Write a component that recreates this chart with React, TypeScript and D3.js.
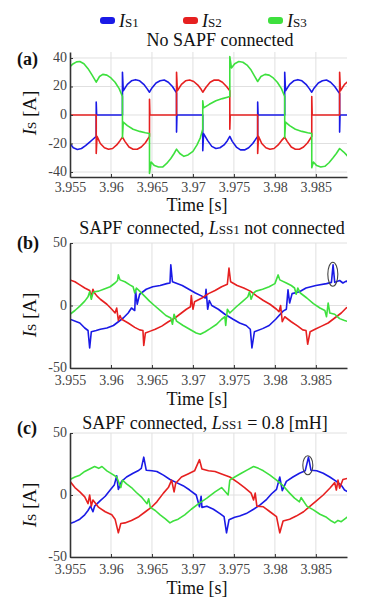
import React, { useEffect, useRef } from "react";
import * as d3 from "d3";

type Pt = [number, number];

const xTicks = [3.955, 3.96, 3.965, 3.97, 3.975, 3.98, 3.985];
const xTickLabels = ["3.955", "3.96", "3.965", "3.97", "3.975", "3.98", "3.985"];
const yTicksA = [-40, -20, 0, 20, 40];
const yTicksBC = [-50, 0, 50];
const legendSubs = ["S1", "S2", "S3"];
const colors = ["#1a1ae6", "#e62020", "#3ee03e"];

// (a) no SAPF
const a1: Pt[] = [
  [3.955, -20], [3.9554, -23], [3.9559, -24.2], [3.9564, -23.5], [3.9569, -21.5], [3.9574, -19], [3.9578, -17], [3.9582, -15],
  [3.9582, 9], [3.95825, 0], [3.9614, 0], [3.9614, 30], [3.9615, 17], [3.962, 21.5], [3.9625, 24], [3.963, 24.8], [3.9635, 24],
  [3.964, 21.5], [3.9644, 18.5], [3.9647, 16], [3.965, 19], [3.9655, 22.5], [3.966, 24], [3.9665, 24.5], [3.967, 23], [3.9675, 20],
  [3.968, 15.5], [3.968, -12], [3.96805, 0], [3.9712, 0], [3.9712, -25], [3.9713, -13], [3.9718, -18], [3.9723, -22], [3.9728, -23.5],
  [3.9733, -23], [3.9738, -21], [3.9742, -18], [3.9745, -15], [3.9748, -18.5], [3.9753, -22.5], [3.9758, -24.5], [3.9763, -24.5],
  [3.9768, -23], [3.9773, -20], [3.9779, -15], [3.9779, 9], [3.97795, 0], [3.9812, 0], [3.9812, 30], [3.9813, 17], [3.9818, 21.5],
  [3.9823, 24], [3.9828, 24.8], [3.9833, 24], [3.9838, 21.5], [3.9842, 18.5], [3.9845, 16], [3.9848, 19], [3.9853, 22.5],
  [3.9858, 24], [3.9863, 24.5], [3.9868, 23], [3.9873, 20], [3.9879, 15], [3.9879, -12], [3.98795, 0], [3.989, 0],
];
const a2: Pt[] = [
  [3.955, 0], [3.9582, 0], [3.9582, -27], [3.9583, -15], [3.9587, -20], [3.9592, -23], [3.9597, -24], [3.9602, -23.5],
  [3.9607, -21], [3.9611, -18], [3.9614, -15.5], [3.9617, -18.5], [3.9622, -22.5], [3.9627, -24], [3.9632, -24], [3.9637, -22.5],
  [3.9642, -19.5], [3.9647, -15], [3.9647, 11], [3.96475, 0], [3.968, 0], [3.968, 30], [3.9681, 17], [3.9686, 21.5], [3.9691, 24],
  [3.9696, 24.5], [3.9701, 23.5], [3.9706, 21], [3.971, 18], [3.9712, 16], [3.9716, 19.5], [3.9721, 23], [3.9726, 24.5],
  [3.9731, 24.5], [3.9736, 23], [3.9741, 20], [3.9745, 17], [3.9745, -10], [3.97455, 0], [3.9779, 0], [3.9779, -27], [3.978, -15],
  [3.9784, -20], [3.9789, -23], [3.9794, -24], [3.9799, -23.5], [3.9804, -21], [3.9808, -18], [3.9812, -15.5], [3.9815, -18.5],
  [3.982, -22.5], [3.9825, -24], [3.983, -24], [3.9835, -22.5], [3.984, -19.5], [3.9845, -15], [3.9845, 13], [3.98455, 0],
  [3.9879, 0], [3.9879, 30], [3.988, 17], [3.9885, 21.5], [3.989, 24],
];
const a3: Pt[] = [
  [3.955, 34], [3.9554, 36], [3.9558, 37.3], [3.9562, 37.5], [3.9567, 36], [3.9572, 32.5], [3.9577, 28], [3.9582, 23],
  [3.9586, 27], [3.959, 28.5], [3.9595, 28], [3.96, 26], [3.9605, 23], [3.961, 18.5], [3.9614, 13], [3.9614, -16], [3.9615, -5],
  [3.962, -7.5], [3.9627, -10], [3.9635, -11.5], [3.9642, -12.5], [3.9647, -13], [3.9647, -41], [3.9649, -33], [3.9653, -35.5],
  [3.9658, -36.5], [3.9663, -36.5], [3.9668, -34], [3.9673, -30.5], [3.9677, -27], [3.968, -24], [3.9684, -27], [3.9689, -29],
  [3.9694, -28], [3.97, -25.5], [3.9705, -21], [3.9709, -16], [3.9712, -10], [3.9712, 10], [3.9713, 5], [3.972, 7.5],
  [3.9728, 10], [3.9736, 11.5], [3.9742, 12.5], [3.9745, 13], [3.9745, 41], [3.9747, 33], [3.9751, 36], [3.9756, 37.5],
  [3.9761, 37], [3.9766, 35], [3.9771, 31.5], [3.9775, 27.5], [3.9779, 23.5], [3.9783, 27], [3.9788, 28.5], [3.9793, 28],
  [3.9798, 26], [3.9803, 23], [3.9808, 18.5], [3.9812, 13], [3.9812, -16], [3.9813, -5], [3.9818, -7.5], [3.9825, -10],
  [3.9833, -11.5], [3.984, -12.5], [3.9845, -13], [3.9845, -37], [3.9847, -33], [3.9851, -35.5], [3.9856, -36.5], [3.9861, -36],
  [3.9866, -33.5], [3.9871, -30], [3.9875, -27], [3.9879, -23.5], [3.9884, -26], [3.9889, -29],
];

// (b) SAPF, Lss1 not connected
const b1: Pt[] = [
  [3.955, -11], [3.9562, -14], [3.9568, -18], [3.9572, -20], [3.9574, -34], [3.9576, -21], [3.9582, -20], [3.9587, -19],
  [3.9595, -18], [3.9603, -16], [3.9609, -13], [3.9615, -10], [3.9621, -6], [3.9625, -2], [3.9629, -4], [3.963, 12], [3.9632, 1],
  [3.9635, 9], [3.9643, 13], [3.9651, 15], [3.966, 16], [3.9668, 17.5], [3.9672, 18], [3.9673, 32.5], [3.9675, 19], [3.9679, 18],
  [3.9687, 16], [3.9695, 13], [3.9703, 10], [3.9711, 7.5], [3.9715, 6], [3.9716, 13], [3.9718, -3], [3.972, 4], [3.9723, 0],
  [3.9731, -3], [3.9739, -7], [3.9749, -11], [3.9757, -14], [3.9765, -16], [3.977, -19], [3.9772, -34], [3.9775, -21],
  [3.9785, -18.5], [3.9793, -16], [3.9801, -11], [3.981, -4.5], [3.9814, -3], [3.9816, 12.5], [3.9818, 2], [3.9821, 9.5],
  [3.983, 11], [3.9838, 14], [3.985, 16], [3.9863, 17.5], [3.9869, 18.5], [3.9871, 32.5], [3.9873, 18.5], [3.9879, 20],
  [3.9883, 18], [3.9887, 19.5], [3.989, 19],
];
const b2: Pt[] = [
  [3.955, 20.5], [3.9556, 19], [3.9562, 16.5], [3.9568, 14], [3.9574, 12], [3.9576, 7], [3.9578, 13], [3.958, 10], [3.9583, 7.5],
  [3.9587, 5], [3.9595, 1], [3.9601, -3], [3.9605, -6], [3.9607, -2], [3.9609, -12], [3.9611, -8], [3.9613, -11], [3.9621, -14],
  [3.9629, -17.5], [3.9635, -19.5], [3.9639, -20], [3.964, -32], [3.9642, -22], [3.9648, -20.5], [3.9654, -19], [3.9662, -16.5],
  [3.967, -13], [3.9678, -10], [3.9686, -6], [3.9692, -3], [3.9697, -1], [3.9698, 8], [3.97, -3], [3.9702, 3], [3.9711, 6],
  [3.9719, 9.5], [3.9727, 12], [3.9735, 15], [3.9742, 17], [3.9744, 30], [3.9746, 19], [3.9754, 16], [3.9762, 14], [3.977, 11.5],
  [3.9778, 7.5], [3.9786, 4], [3.9794, 1], [3.9802, -3], [3.9805, -5], [3.9807, 0], [3.9809, -13], [3.9812, -9], [3.982, -13],
  [3.9828, -16.5], [3.9834, -19.5], [3.9838, -20], [3.984, -31], [3.9843, -21], [3.9849, -19], [3.9857, -16.5], [3.9865, -14],
  [3.9873, -10], [3.9881, -6], [3.9887, -2], [3.989, -1],
];
const b3: Pt[] = [
  [3.955, -7], [3.9556, -4], [3.9562, -0.5], [3.9568, 3.5], [3.9572, 7], [3.9574, 11], [3.9576, 5], [3.9578, 10], [3.958, 11],
  [3.9585, 11.5], [3.9591, 13], [3.9599, 15], [3.9605, 18], [3.9608, 20], [3.9609, 24.5], [3.9611, 20.5], [3.9617, 19],
  [3.9623, 16.5], [3.9627, 15], [3.9629, 10], [3.9631, 14], [3.9635, 11.5], [3.9641, 7.5], [3.9647, 3.5], [3.9653, 0],
  [3.9661, -4.5], [3.9667, -8], [3.9673, -10], [3.9675, -15], [3.9677, -7], [3.968, -12.5], [3.9688, -16], [3.9696, -19],
  [3.9704, -22], [3.9709, -23], [3.9715, -21], [3.9721, -18.5], [3.9729, -15], [3.9735, -11], [3.9739, -9], [3.974, -16],
  [3.9742, -3], [3.9745, -6], [3.9753, -1], [3.9761, 3.5], [3.9767, 7], [3.9769, 11], [3.9771, 5], [3.9774, 10], [3.9777, 11.5],
  [3.9785, 13], [3.9793, 15], [3.98, 17.5], [3.9804, 24.5], [3.9806, 20.5], [3.9814, 18], [3.982, 16], [3.9824, 14],
  [3.9826, 9], [3.9828, 14], [3.9831, 10], [3.9839, 6], [3.9847, 1.5], [3.9855, -2], [3.9861, -4], [3.9863, -9], [3.9865, 2],
  [3.9867, -6], [3.9873, -7], [3.9879, -10.5], [3.9885, -12], [3.989, -13],
];

// (c) SAPF, Lss1 = 0.8 mH
const c1: Pt[] = [
  [3.955, -23], [3.9556, -21.5], [3.9562, -19.5], [3.9568, -16], [3.9572, -12.5], [3.9575, -9], [3.9578, -13.5], [3.958, -9],
  [3.9587, -4.5], [3.9593, -1], [3.9599, 4], [3.9604, 8], [3.9607, 15.5], [3.9609, 4.5], [3.9613, 11], [3.9619, 14.5],
  [3.9627, 17.5], [3.9633, 19.5], [3.9637, 21.5], [3.964, 30.5], [3.9643, 20], [3.965, 19.5], [3.9656, 19], [3.9664, 16],
  [3.9672, 12.5], [3.968, 10], [3.9688, 7.5], [3.9696, 4], [3.9704, 0], [3.9708, -9.5], [3.971, -1], [3.9711, -10],
  [3.9717, -9], [3.9725, -11.5], [3.9733, -15], [3.9738, -17.5], [3.9741, -30.5], [3.9744, -20], [3.9751, -18], [3.9757, -17],
  [3.9765, -15], [3.9774, -11.5], [3.9782, -8], [3.979, -3.5], [3.9796, 1], [3.9802, 4.5], [3.9806, 14.5], [3.9809, 3.5],
  [3.9814, 11], [3.9822, 14.5], [3.983, 17.5], [3.9837, 19.5], [3.9841, 30.5], [3.9844, 20], [3.9851, 19.5], [3.9859, 17.5],
  [3.9867, 14.5], [3.9875, 11], [3.9881, 8], [3.9885, 4], [3.9889, 2.5],
];
const c2: Pt[] = [
  [3.955, 11], [3.9556, 6], [3.9562, 2.5], [3.9568, -1.5], [3.9572, -7], [3.9574, 0], [3.9576, -9], [3.9578, -4],
  [3.9585, -10], [3.9593, -13.5], [3.9601, -16], [3.9605, -19.5], [3.9609, -30.5], [3.9612, -23], [3.9617, -22.5],
  [3.9625, -20.5], [3.9634, -17.5], [3.9642, -13.5], [3.965, -9.5], [3.9656, -5.5], [3.9664, 1.5], [3.967, 6], [3.9674, 12],
  [3.9677, 2.5], [3.9679, 9.5], [3.9686, 14.5], [3.9694, 17], [3.9702, 19.5], [3.9708, 28.5], [3.9711, 21], [3.9719, 19.5],
  [3.9727, 19], [3.9735, 17], [3.9745, 14.5], [3.9755, 10], [3.9763, 6], [3.9771, 1.5], [3.9774, -4], [3.9776, 1.5],
  [3.9778, -9], [3.9786, -9.5], [3.9794, -13.5], [3.9802, -17.5], [3.9806, -30.5], [3.981, -21], [3.9818, -19.5],
  [3.9826, -17], [3.9835, -13.5], [3.9843, -9], [3.9851, -4.5], [3.9859, 0], [3.9867, 5.5], [3.9873, 10], [3.9875, 4],
  [3.9877, 12], [3.9879, 5.5], [3.9883, 12.5], [3.9889, 13.5],
];
const c3: Pt[] = [
  [3.955, 12.5], [3.9556, 14.5], [3.9562, 16], [3.9568, 19], [3.9574, 21], [3.958, 23], [3.9585, 21.5], [3.9589, 23],
  [3.9595, 19.5], [3.9601, 17], [3.9607, 14.5], [3.9612, 6], [3.9614, 12], [3.9619, 9], [3.9625, 6], [3.9631, 2],
  [3.9637, -1.5], [3.9644, -7], [3.9646, -3], [3.9648, -10], [3.9654, -12.5], [3.966, -16], [3.9666, -19], [3.9672, -22.5],
  [3.9676, -21], [3.9682, -19.5], [3.969, -16], [3.9698, -11.5], [3.9707, -7], [3.9717, -2.5], [3.9727, 2.5], [3.9735, 6],
  [3.9743, 0], [3.9745, 12], [3.9751, 14.5], [3.9759, 17.5], [3.9767, 20.5], [3.9774, 23], [3.978, 21.5], [3.9786, 19.5],
  [3.9794, 16], [3.9802, 12], [3.981, 7.5], [3.9818, 1.5], [3.9824, -2.5], [3.983, -5.5], [3.9832, -2], [3.9839, -9],
  [3.9847, -12], [3.9855, -15.5], [3.9863, -18], [3.9869, -21], [3.9873, -22.5], [3.9877, -20.5], [3.9881, -21.5],
  [3.9889, -17.5],
];

// circled spikes
const markB: Pt = [3.98707, 25];
const markC: Pt = [3.98402, 24];

const xDomain = [3.955, 3.9888];

const panels = [
  { tag: "(a)", top: 52, bottom: 177, yDomain: [-43.5, 44.2], yTicks: yTicksA, series: [a1, a2, a3], mark: null as Pt | null,
    title: [["No SAPF connected", "n"]], titleX: 220, titleY: 46, tagY: 65, ylabY: 113, timeY: 211, xPad: 5 },
  { tag: "(b)", top: 243, bottom: 368, yDomain: [-50, 50], yTicks: yTicksBC, series: [b1, b2, b3], mark: markB,
    title: [["SAPF connected, ", "n"], ["L", "i"], ["SS1", "s"], [" not connected", "n"]], titleX: 212, titleY: 234, tagY: 249, ylabY: 315, timeY: 405, xPad: 7 },
  { tag: "(c)", top: 433, bottom: 557, yDomain: [-50, 50], yTicks: yTicksBC, series: [c1, c2, c3], mark: markC,
    title: [["SAPF connected, ", "n"], ["L", "i"], ["SS1", "s"], [" = 0.8 [mH]", "n"]], titleX: 205, titleY: 429, tagY: 434, ylabY: 505, timeY: 594, xPad: 7 },
];

const FONT = "'Liberation Serif', 'Times New Roman', Times, serif";

export default function App() {
  const ref = useRef<SVGSVGElement>(null);

  useEffect(() => {
    const svg = d3.select(ref.current);
    svg.selectAll("*").remove();
    svg.attr("font-family", FONT);

    const defs = svg.append("defs");

    // legend
    const legX = [100, 183, 268];
    legX.forEach((lx, i) => {
      svg.append("rect").attr("x", lx).attr("y", 17).attr("width", 15).attr("height", 7).attr("rx", 3).attr("fill", colors[i]);
      const t = svg.append("text").attr("x", lx + 19).attr("y", 26.5).attr("fill", "#111");
      t.append("tspan").attr("font-style", "italic").attr("font-size", 18).text("I");
      t.append("tspan").attr("font-size", 13).text(legendSubs[i]);
    });

    panels.forEach((p, pi) => {
      const x = d3.scaleLinear().domain(xDomain).range([70, 347]);
      const y = d3.scaleLinear().domain(p.yDomain).range([p.bottom, p.top]);
      const g = svg.append("g");

      const clipId = "clip" + pi;
      defs.append("clipPath").attr("id", clipId).append("rect")
        .attr("x", 70).attr("y", p.top).attr("width", 277).attr("height", p.bottom - p.top);

      // grid
      g.append("g").selectAll("line").data(xTicks.slice(1)).join("line")
        .attr("x1", (d) => x(d)).attr("x2", (d) => x(d)).attr("y1", p.top).attr("y2", p.bottom)
        .attr("stroke", "#e0e0e0").attr("stroke-width", 1);
      g.append("g").selectAll("line").data(p.yTicks).join("line")
        .attr("x1", 70).attr("x2", 347).attr("y1", (d) => y(d)).attr("y2", (d) => y(d))
        .attr("stroke", "#e0e0e0").attr("stroke-width", 1);

      // currents
      const line = d3.line<Pt>().x((d) => x(d[0])).y((d) => y(d[1]));
      p.series.forEach((s, i) => {
        g.append("path").attr("d", line(s)).attr("fill", "none").attr("stroke", colors[i])
          .attr("stroke-width", 1.6).attr("stroke-linejoin", "round").attr("clip-path", `url(#${clipId})`);
      });

      if (p.mark) {
        g.append("ellipse").attr("cx", x(p.mark[0])).attr("cy", y(p.mark[1])).attr("rx", 5).attr("ry", pi === 1 ? 12 : 9.5)
          .attr("fill", "none").attr("stroke", "#444").attr("stroke-width", 1.1);
      }

      // axes
      const xAxis = d3.axisBottom(x).tickValues(xTicks).tickSizeInner(-3).tickSizeOuter(0).tickPadding(p.xPad)
        .tickFormat((d, i) => xTickLabels[i]);
      const yAxis = d3.axisLeft(y).tickValues(p.yTicks).tickSizeInner(-3).tickSizeOuter(0).tickPadding(3)
        .tickFormat((d) => String(d));
      const gx = g.append("g").attr("transform", `translate(0,${p.bottom})`).call(xAxis);
      const gy = g.append("g").attr("transform", "translate(70,0)").call(yAxis);
      [gx, gy].forEach((a) => {
        a.attr("font-family", FONT).attr("font-size", 14);
        a.select(".domain").attr("stroke", "#333").attr("stroke-width", 1.6);
        a.selectAll(".tick line").attr("stroke", "#333");
        a.selectAll(".tick text").attr("fill", "#444");
      });
      gy.selectAll(".tick text").attr("dy", "0.25em");

      // panel tag
      svg.append("text").attr("x", 17).attr("y", p.tagY).attr("font-size", 18).attr("font-weight", "bold")
        .attr("fill", "#111").text(p.tag);

      // title
      const tt = svg.append("text").attr("x", p.titleX).attr("y", p.titleY).attr("text-anchor", "middle")
        .attr("font-size", 18).attr("fill", "#111");
      p.title.forEach(([s, k]) => {
        const sp = tt.append("tspan").text(s);
        if (k === "i") sp.attr("font-style", "italic");
        if (k === "s") sp.attr("font-size", 13);
      });

      // y label
      const yl = svg.append("text").attr("transform", `translate(36,${p.ylabY}) rotate(-90)`)
        .attr("text-anchor", "middle").attr("font-size", 19).attr("fill", "#111");
      yl.append("tspan").attr("font-style", "italic").text("I");
      yl.append("tspan").attr("font-size", 13).text("S");
      yl.append("tspan").text(" [A]");

      // x label
      svg.append("text").attr("x", 197).attr("y", p.timeY).attr("text-anchor", "middle").attr("font-size", 18)
        .attr("fill", "#111").text("Time [s]");
    });
  }, []);

  return (
    <svg
      ref={ref}
      width={369}
      height={606}
      viewBox="0 0 369 606"
      style={{ position: "absolute", left: 0, top: 0, background: "#fff" }}
    />
  );
}
